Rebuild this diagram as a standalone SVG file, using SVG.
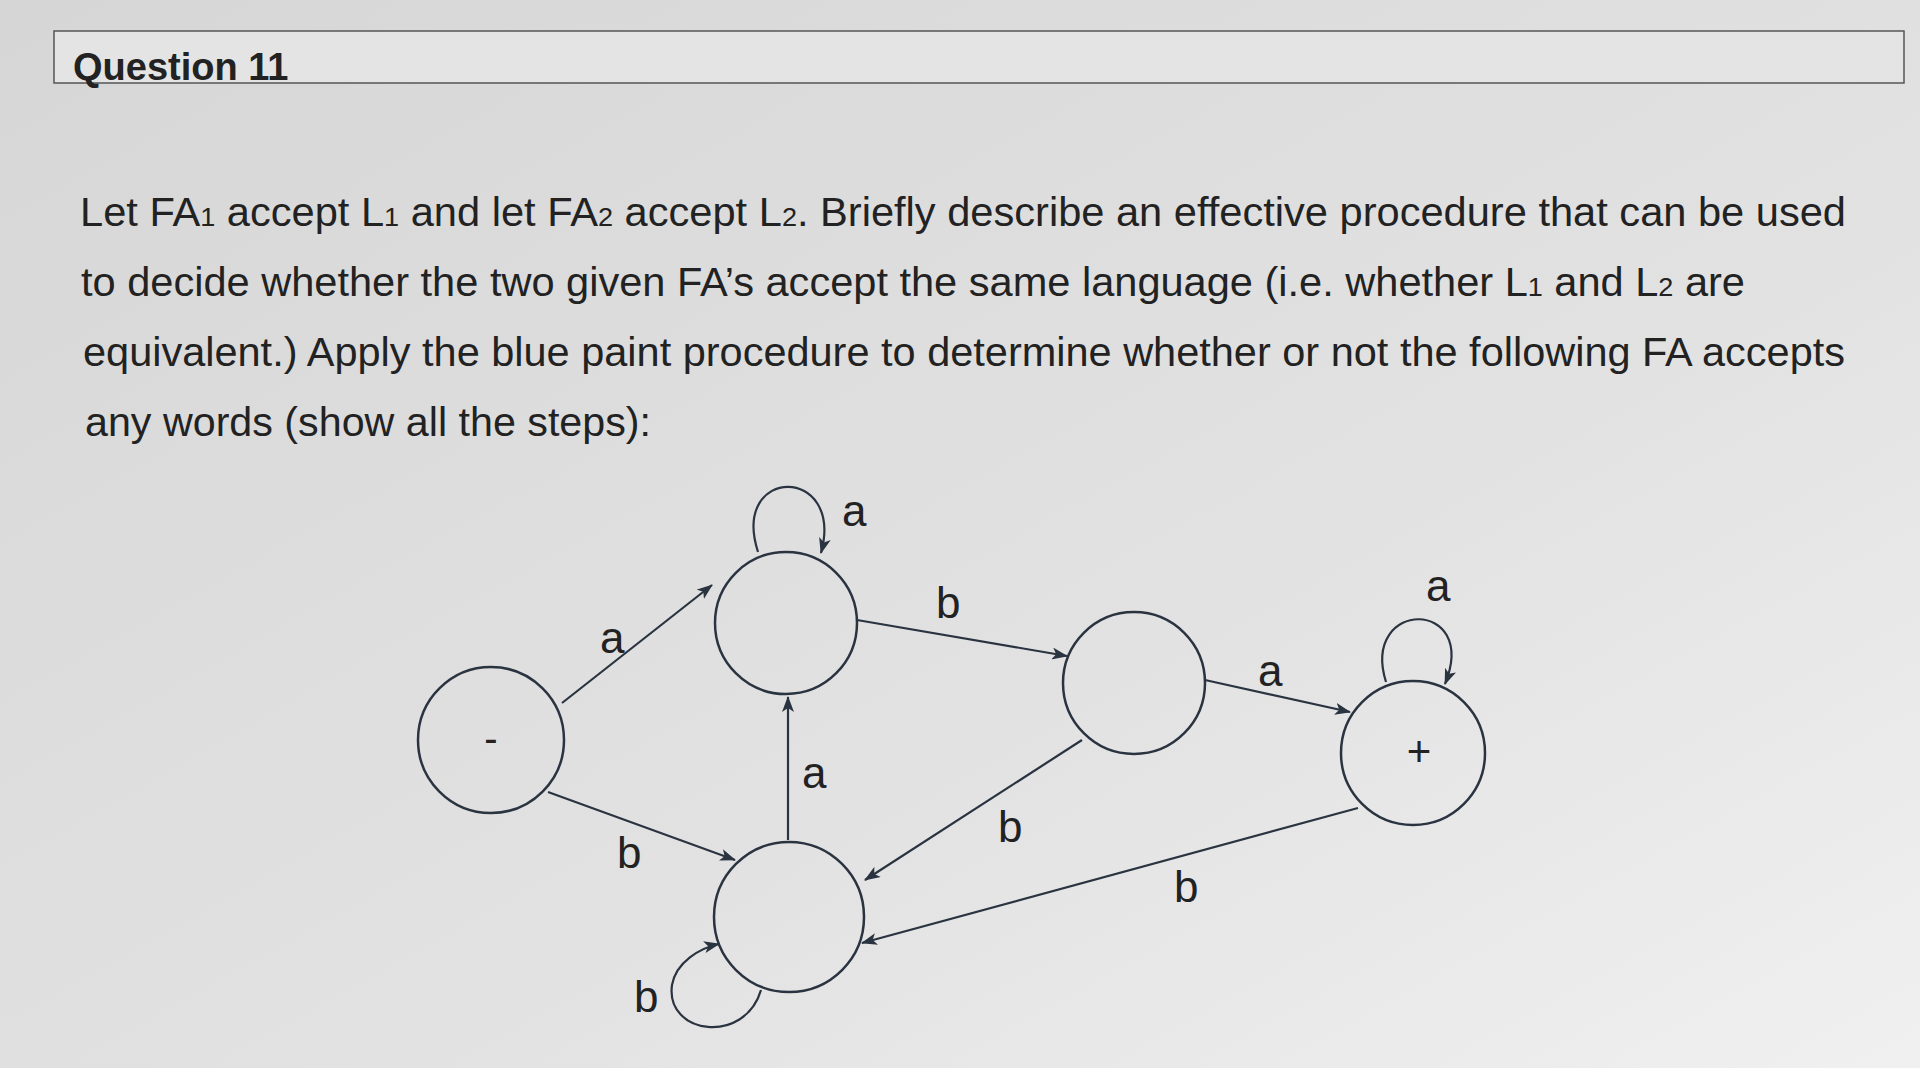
<svg xmlns="http://www.w3.org/2000/svg" width="1920" height="1068" viewBox="0 0 1920 1068">
<defs>
<linearGradient id="bg" x1="0" y1="0" x2="1" y2="1"><stop offset="0" stop-color="#d6d6d6"/><stop offset="0.6" stop-color="#e2e2e2"/><stop offset="1" stop-color="#f0f0f0"/></linearGradient>
<marker id="ar" viewBox="0 0 16 12" refX="15" refY="6" markerWidth="16" markerHeight="12" orient="auto" markerUnits="userSpaceOnUse"><path d="M0,0 L16,6 L0,12 L4,6 z" fill="#2a3340"/></marker>
<style>
.t{font-family:"Liberation Sans",Arial,sans-serif;fill:#222;}
.body{font-size:40px;}
.lbl{font-size:44px;}
.n{fill:none;stroke:#2a3340;stroke-width:2.5;}
.e{fill:none;stroke:#2a3340;stroke-width:2.2;marker-end:url(#ar);}
</style>
</defs>
<rect width="1920" height="1068" fill="url(#bg)"/>
<rect x="54" y="31" width="1850" height="52" fill="#e4e4e4" stroke="#555" stroke-width="1.5"/>
<text class="t" x="73" y="80" font-size="38" font-weight="bold">Question 11</text>
<text class="t body" x="80" y="226" textLength="1766" lengthAdjust="spacingAndGlyphs">Let FA<tspan font-size="26">1</tspan> accept L<tspan font-size="26">1</tspan> and let FA<tspan font-size="26">2</tspan> accept L<tspan font-size="26">2</tspan>. Briefly describe an effective procedure that can be used</text>
<text class="t body" x="81" y="296" textLength="1664" lengthAdjust="spacingAndGlyphs">to decide whether the two given FA’s accept the same language (i.e. whether L<tspan font-size="26">1</tspan> and L<tspan font-size="26">2</tspan> are</text>
<text class="t body" x="83" y="366" textLength="1762" lengthAdjust="spacingAndGlyphs">equivalent.) Apply the blue paint procedure to determine whether or not the following FA accepts</text>
<text class="t body" x="85" y="436" textLength="566" lengthAdjust="spacingAndGlyphs">any words (show all the steps):</text>
<g id="edges">
<path class="e" d="M562,703 L712,585"/>
<path class="e" d="M548,792 L735,860"/>
<path class="e" d="M788,840 L788,697"/>
<path class="e" d="M857,620 L1067,656"/>
<path class="e" d="M1205,680 L1350,712"/>
<path class="e" d="M1082,740 L865,880"/>
<path class="e" d="M1358,808 L862,943"/>
<path class="e" d="M758,552 C730,465 845,465 821,553"/>
<path class="e" d="M1386,682 C1360,598 1480,598 1445,684"/>
<path class="e" d="M761,990 C745,1045 665,1035 672,985 C676,962 700,948 719,944"/>
</g>
<g id="labels" class="t lbl">
<text x="842" y="526">a</text>
<text x="600" y="653">a</text>
<text x="936" y="618">b</text>
<text x="1258" y="686">a</text>
<text x="1426" y="601">a</text>
<text x="802" y="788">a</text>
<text x="998" y="842">b</text>
<text x="1174" y="902">b</text>
<text x="617" y="868">b</text>
<text x="634" y="1012">b</text>
</g>
<g id="s0"><circle class="n" cx="491" cy="740" r="73"/><text class="t" x="491" y="752" font-size="40" text-anchor="middle">-</text></g>
<g id="s1"><circle class="n" cx="786" cy="623" r="71"/></g>
<g id="s2"><circle class="n" cx="1134" cy="683" r="71"/></g>
<g id="s3"><circle class="n" cx="1413" cy="753" r="72"/><text class="t" x="1419" y="766" font-size="42" text-anchor="middle">+</text></g>
<g id="s4"><circle class="n" cx="789" cy="917" r="75"/></g>
</svg>
